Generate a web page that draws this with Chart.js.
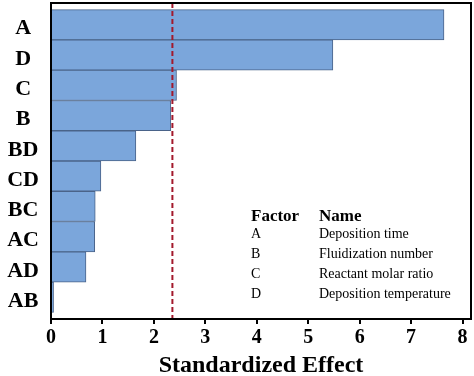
<!DOCTYPE html>
<html>
<head>
<meta charset="utf-8">
<script src="https://cdn.jsdelivr.net/npm/chart.js@4/dist/chart.umd.min.js"></script>
<style>
  html, body { margin: 0; padding: 0; background: #fff; }
  #wrap { width: 474px; height: 376px; }
</style>
</head>
<body>
<div id="wrap"><canvas id="c" width="474" height="376"></canvas></div>
<script>
// ---- data ----
const factors = ['A', 'D', 'C', 'B', 'BD', 'CD', 'BC', 'AC', 'AD', 'AB'];
const effects = [7.64, 5.48, 2.44, 2.33, 1.65, 0.97, 0.86, 0.85, 0.68, 0.05];
const referenceLine = 2.36;
const xTicks = [0, 1, 2, 3, 4, 5, 6, 7, 8];
const legendHeader = ['Factor', 'Name'];
const legendFactors = ['A', 'B', 'C', 'D'];
const legendNames = ['Deposition time', 'Fluidization number', 'Reactant molar ratio', 'Deposition temperature'];

const SERIF = "'Liberation Serif', 'Times New Roman', serif";

const frameAndExtras = {
  id: 'frameAndExtras',
  afterDatasetsDraw(chart) {
    const { ctx, chartArea: a, scales } = chart;
    ctx.save();
    // reference dashed line
    const rx = scales.x.getPixelForValue(referenceLine);
    ctx.strokeStyle = '#a3192c';
    ctx.lineWidth = 2;
    ctx.setLineDash([5, 3]);
    ctx.beginPath();
    ctx.moveTo(rx, a.top);
    ctx.lineTo(rx, a.bottom);
    ctx.stroke();
    ctx.setLineDash([]);
    // frame
    ctx.strokeStyle = '#000';
    ctx.lineWidth = 2;
    ctx.strokeRect(a.left, a.top, a.right - a.left, a.bottom - a.top);
    // legend table
    ctx.fillStyle = '#000';
    ctx.textBaseline = 'alphabetic';
    ctx.textAlign = 'left';
    const col1 = 251, col2 = 319;
    ctx.font = 'bold 17px ' + SERIF;
    ctx.fillText(legendHeader[0], col1, 221);
    ctx.fillText(legendHeader[1], col2, 221);
    ctx.font = '14px ' + SERIF;
    const rowY = [238, 257.5, 277.5, 297.5];
    legendFactors.forEach((f, i) => {
      ctx.fillText(f, col1, rowY[i]);
      ctx.fillText(legendNames[i], col2, rowY[i]);
    });
    ctx.restore();
  }
};

new Chart(document.getElementById('c'), {
  type: 'bar',
  data: {
    datasets: [{
      data: effects.map((v, i) => ({ x: v, y: i })),
      backgroundColor: '#7ba6db',
      borderColor: '#4a6389',
      borderWidth: 1,
      barPercentage: 1,
      categoryPercentage: 1
    }]
  },
  options: {
    indexAxis: 'y',
    responsive: false,
    animation: false,
    layout: { padding: { top: 3, right: 3, left: 0, bottom: 0 } },
    plugins: { legend: { display: false }, tooltip: { enabled: false } },
    scales: {
      x: {
        type: 'linear',
        min: 0,
        max: 8.165,
        afterBuildTicks: (s) => { s.ticks = xTicks.map(v => ({ value: v })); },
        afterFit: (s) => { s.height = 57; s.paddingLeft = 0; s.paddingRight = 0; },
        grid: { display: true, drawOnChartArea: false, drawTicks: true, tickLength: 5, color: '#000', lineWidth: 2 },
        border: { display: true, color: '#000', width: 2 },
        ticks: { color: '#000', font: { family: SERIF, weight: 'bold', size: 20 }, padding: 2, maxRotation: 0 },
        title: { display: true, text: 'Standardized Effect', color: '#000', font: { family: SERIF, weight: 'bold', size: 24 }, padding: { top: 0, bottom: -4 } }
      },
      y: {
        type: 'linear',
        offset: false,
        min: -0.72,
        max: 9.72,
        reverse: true,
        afterBuildTicks: (s) => { s.ticks = factors.map((_, i) => ({ value: i })); },
        afterFit: (s) => { s.width = 51; s.paddingTop = 0; s.paddingBottom = 0; },
        grid: { display: false, drawTicks: false, offset: false },
        border: { display: false },
        ticks: {
          color: '#000',
          font: { family: SERIF, weight: 'bold', size: 22 },
          padding: 12,
          crossAlign: 'center',
          labelOffset: 4,
          callback: (v) => factors[v]
        }
      }
    }
  },
  plugins: [frameAndExtras]
});
</script>
</body>
</html>
